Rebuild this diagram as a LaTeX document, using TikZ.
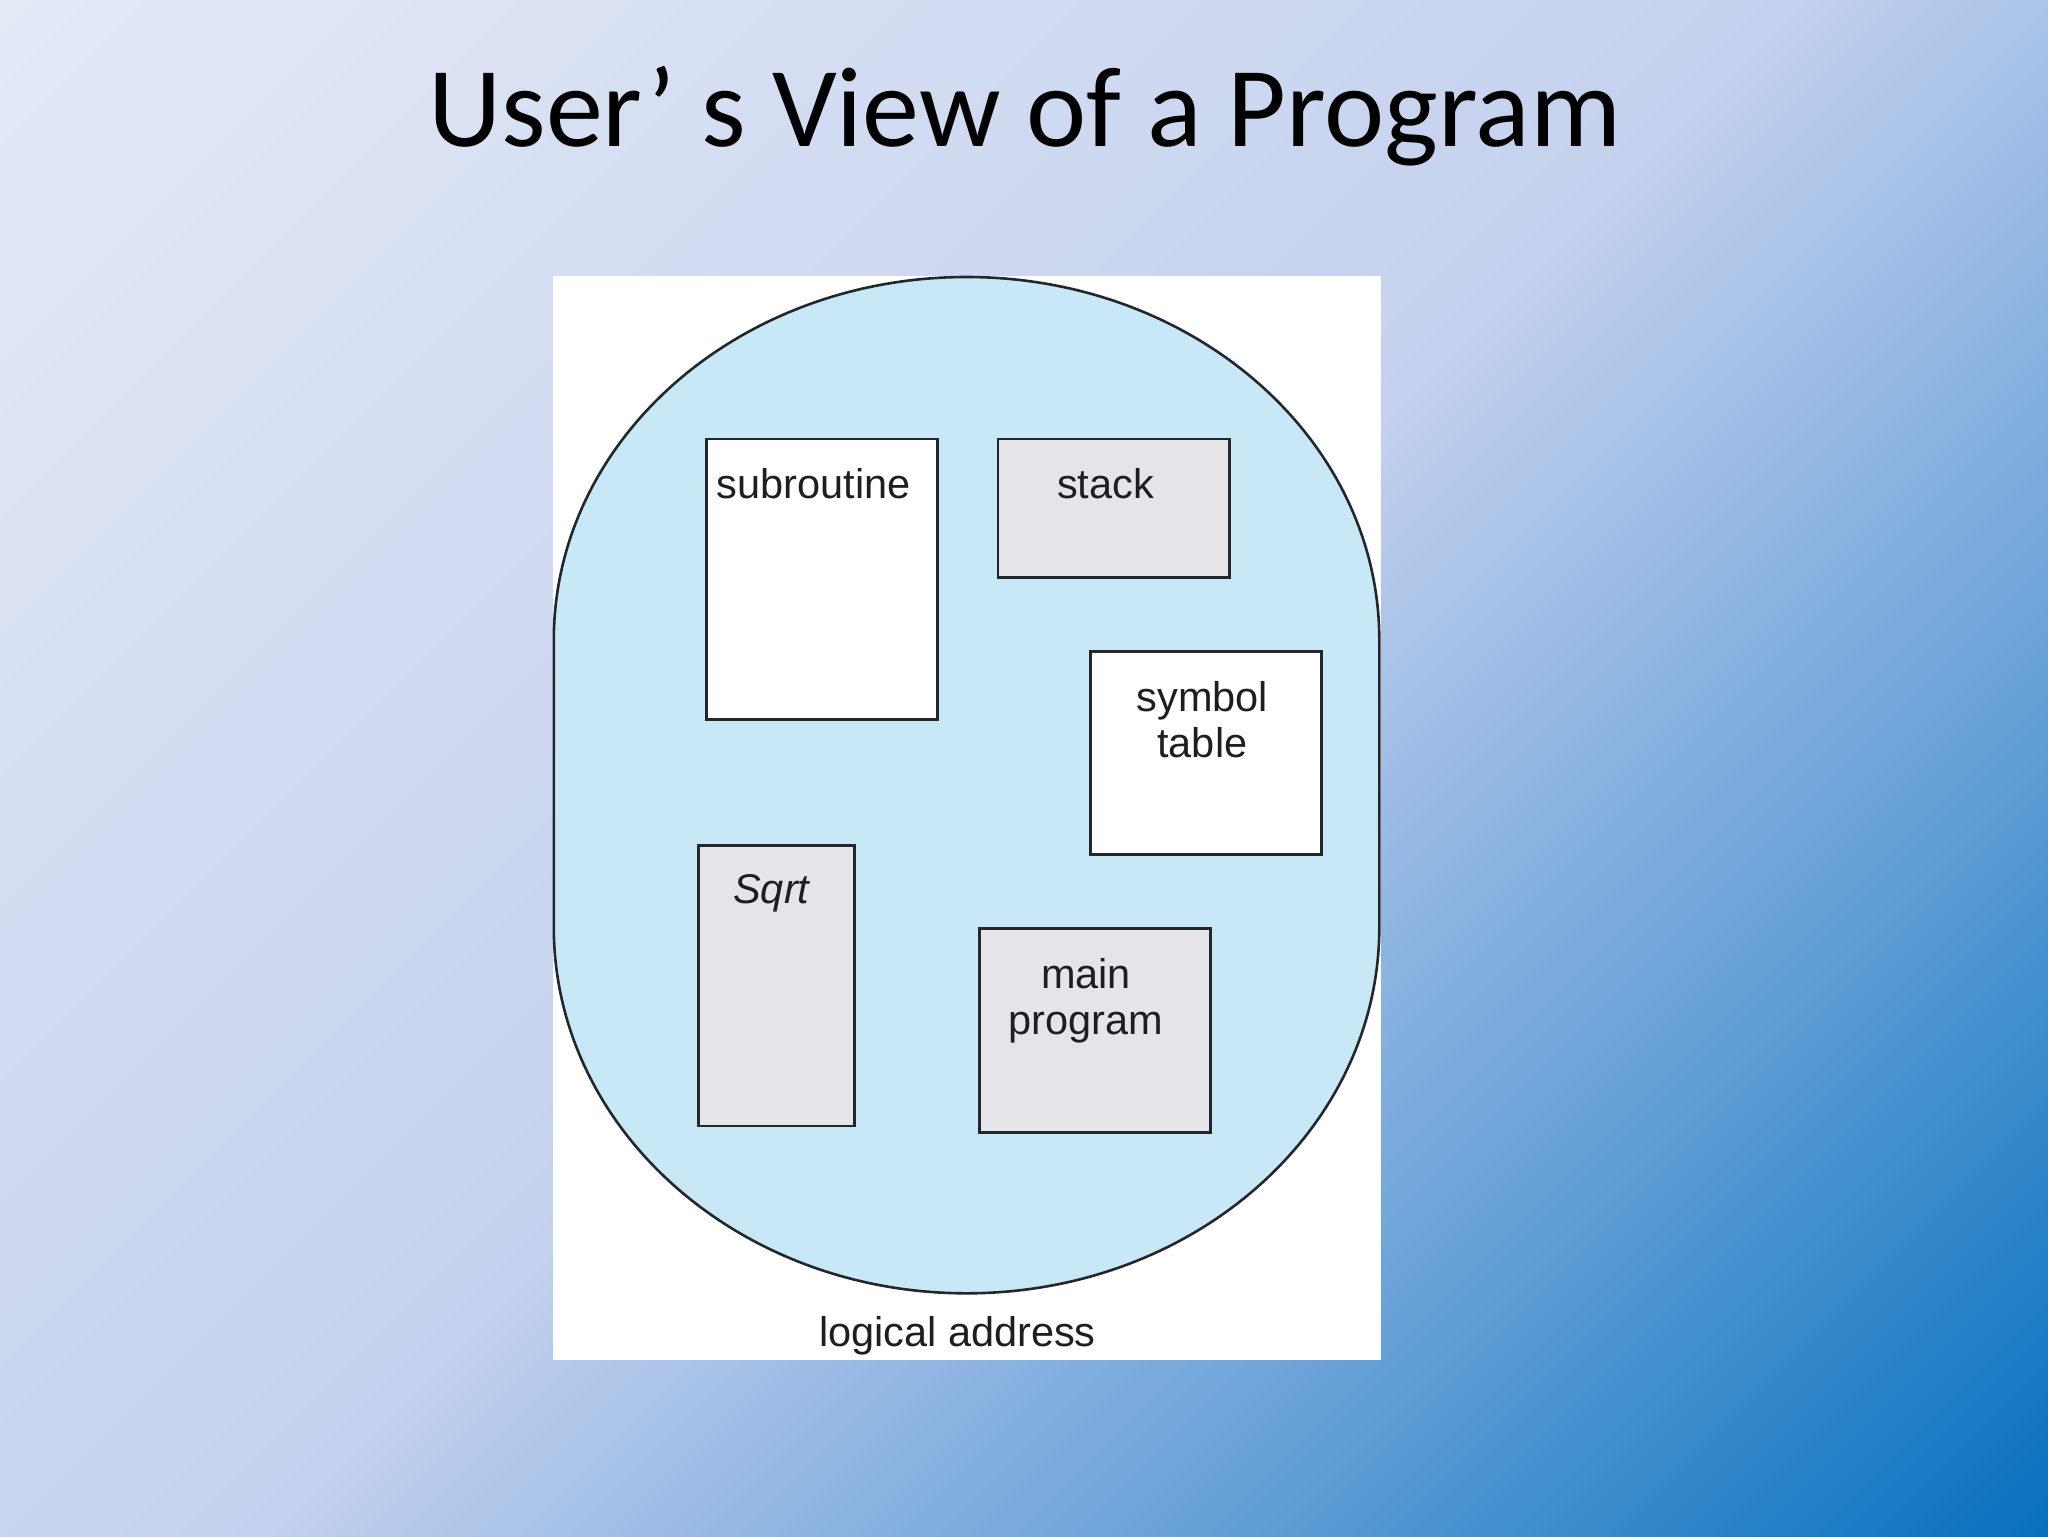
\documentclass[tikz,border=0pt]{standalone}
\usepackage{fontspec}
\setmainfont{Liberation Sans}
\newfontfamily\titlefont{Carlito}
\newfontfamily\labelfont{Liberation Sans}
\definecolor{ovalfill}{RGB}{200,232,248}
\definecolor{boxgray}{RGB}{229,229,233}
\definecolor{inkline}{RGB}{35,38,42}
\definecolor{inktext}{RGB}{30,30,32}
\pgfdeclarehorizontalshading{slidebg}{100bp}{%
  rgb(0bp)=(0.902,0.925,0.969);
  rgb(14.6bp)=(0.894,0.918,0.965);
  rgb(32bp)=(0.831,0.867,0.949);
  rgb(50bp)=(0.769,0.820,0.933);
  rgb(59bp)=(0.588,0.725,0.894);
  rgb(68bp)=(0.412,0.635,0.843);
  rgb(76.5bp)=(0.216,0.541,0.796);
  rgb(85.4bp)=(0.031,0.439,0.753);
  rgb(100bp)=(0.0,0.412,0.725)}
\tikzset{
  boxnode/.style={draw=inkline, line width=1.4pt, inner sep=0pt, outer sep=0pt,
    anchor=north west},
  lbl/.style={font=\labelfont\fontsize{20.75pt}{22.9pt}\selectfont, text=inktext,
    anchor=base, inner sep=0pt, align=center},
}
\begin{document}
\begin{tikzpicture}[x=0.5pt,y=-0.5pt]
\useasboundingbox (0,0) rectangle (2048,1536);
\shade[shading=slidebg, shading angle=-45] (0,0) rectangle (2048,1536);
% title
\node[font=\titlefont\fontsize{57pt}{60pt}\selectfont, anchor=base, inner sep=0pt]
  (title) at (1024.7,146.3) {User’ s View of a Program};
% white panel
\node[fill=white, inner sep=0pt, outer sep=0pt, anchor=north west,
  minimum width=414pt, minimum height=542pt] (panel) at (552.5,275.6) {};
% oval
\draw[fill=ovalfill, draw=inkline, line width=1.3pt]
  (553.8,640) arc[start angle=180, end angle=360, x radius=412.75, y radius=363]
  -- (1379.3,927.3) arc[start angle=0, end angle=180, x radius=412.75, y radius=366]
  -- cycle;
% boxes
\node[boxnode, fill=white, minimum width=115.6pt, minimum height=140.4pt]
  (subbox) at (706.6,438.9) {};
\node[boxnode, fill=boxgray, minimum width=115.6pt, minimum height=69.2pt]
  (stackbox) at (997.9,438.9) {};
\node[boxnode, fill=white, minimum width=115.6pt, minimum height=101.25pt]
  (symbox) at (1090.6,651.7) {};
\node[boxnode, fill=boxgray, minimum width=77.7pt, minimum height=140.4pt]
  (sqrtbox) at (698.8,845.1) {};
\node[boxnode, fill=boxgray, minimum width=115.6pt, minimum height=101.85pt]
  (mainbox) at (979.6,928.7) {};
% labels
\node[lbl] (sublbl) at (813.7,498.9) {subroutine};
\node[lbl] (stacklbl) at (1105.6,498.9) {stack};
\node[lbl] (symlbl) at (1202.3,757.5) {symbol\\table};
\node[lbl, font=\labelfont\itshape\fontsize{20.75pt}{22.9pt}\selectfont] (sqrtlbl) at (771.3,903.8) {Sqrt};
\node[lbl] (mainlbl) at (1086,1034.4) {main\\program};
\node[lbl] (loglbl) at (957.4,1346.6) {logical address};
\end{tikzpicture}
\end{document}
